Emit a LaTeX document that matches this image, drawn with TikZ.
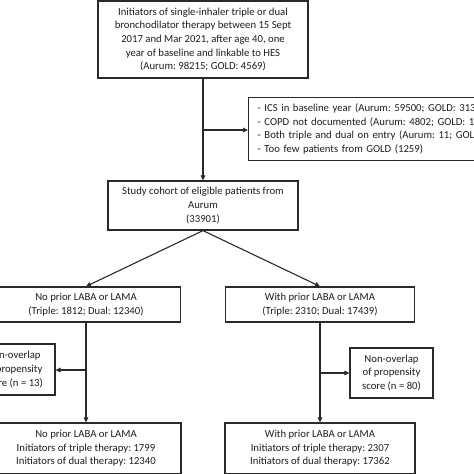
\documentclass[tikz,border=0pt]{standalone}
\usepackage{fontspec}
\setmainfont{Carlito}
\frenchspacing
\usetikzlibrary{arrows.meta}
\definecolor{ink}{HTML}{1E1E1E}
\definecolor{edge}{HTML}{2A2A2A}
\begin{document}
\begin{tikzpicture}[x=1pt,y=-1pt,
  box/.style={draw=edge,line width=1.2pt,fill=white,inner sep=0pt,align=center,text=ink,
    font=\fontsize{10.7pt}{13.6pt}\selectfont},
  conn/.style={draw=edge,line width=1.1pt,-{Triangle[length=5pt,width=4.6pt]}},
  plain/.style={draw=edge,line width=1.1pt}]
\useasboundingbox (0,0) rectangle (474,474);
\node[box,minimum width=210pt,minimum height=77pt] (top) at (203,39.5)
  {Initiators of single-inhaler triple or dual\\bronchodilator therapy between 15 Sept\\2017 and Mar 2021, after age 40, one\\year of baseline and linkable to HES\\(Aurum: 98215; GOLD: 4569)};
\node[box,anchor=north west,align=left,text width=260pt,inner xsep=9pt,minimum height=63pt] (excl) at (248,97)
  {- ICS in baseline year (Aurum: 59500; GOLD: 3135)\\- COPD not documented (Aurum: 4802; GOLD: 170)\\- Both triple and dual on entry (Aurum: 11; GOLD: 5)\\- Too few patients from GOLD (1259)};
\node[box,minimum width=190pt,minimum height=49pt] (cohort) at (203,205.5)
  {Study cohort of eligible patients from\\Aurum\\(33901)};
\node[box,minimum width=189pt,minimum height=35pt] (noprior) at (86,304.5)
  {No prior LABA or LAMA\\(Triple: 1812; Dual: 12340)};
\node[box,minimum width=189pt,minimum height=35pt] (withprior) at (320,304.5)
  {With prior LABA or LAMA\\(Triple: 2310; Dual: 17439)};
\node[box,minimum width=83pt,minimum height=51pt] (propL) at (13.5,369.5)
  {Non-overlap\\of propensity\\score (n = 13)};
\node[box,minimum width=83pt,minimum height=50pt] (propR) at (391.5,373)
  {Non-overlap\\of propensity\\score (n = 80)};
\node[box,minimum width=190pt,minimum height=51pt] (botL) at (86,448.5)
  {No prior LABA or LAMA\\Initiators of triple therapy: 1799\\Initiators of dual therapy: 12340};
\node[box,minimum width=190pt,minimum height=51pt] (botR) at (320,448.5)
  {With prior LABA or LAMA\\Initiators of triple therapy: 2307\\Initiators of dual therapy: 17362};
\coordinate (b1) at (203,130);
\coordinate (b2) at (86,370);
\coordinate (b3) at (320,373);
\draw[conn] (top.south) -- (cohort.north);
\draw[conn] (b1) -- (b1 -| excl.west);
\draw[conn] (cohort.south) -- (noprior.north);
\draw[conn] (cohort.south) -- (withprior.north);
\draw[conn] (noprior.south) -- (botL.north);
\draw[conn] (b2) -- (b2 -| propL.east);
\draw[conn] (withprior.south) -- (botR.north);
\draw[conn] (b3) -- (b3 -| propR.west);
\end{tikzpicture}
\end{document}
